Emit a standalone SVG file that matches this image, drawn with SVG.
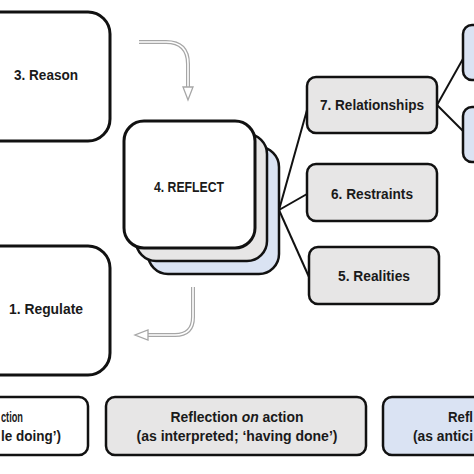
<svg xmlns="http://www.w3.org/2000/svg" width="474" height="474" viewBox="0 0 474 474">
<style>
.t{font-family:"Liberation Sans",Arial,sans-serif;font-weight:bold;font-size:14px;fill:#1a1a1a}
.big{fill:#fff;stroke:#111;stroke-width:3}
.gray{fill:#e7e6e6;stroke:#111;stroke-width:2.5}
.blue{fill:#dae3f3;stroke:#111;stroke-width:2.5}
.wht{fill:#fff;stroke:#111;stroke-width:2.5}
.ln{stroke:#111;stroke-width:2;fill:none}
.ao{stroke:#a6a6a6;stroke-width:4;fill:none}
.ai{stroke:#fff;stroke-width:1.6;fill:none}
.ah{fill:#fff;stroke:#a6a6a6;stroke-width:1.3}
</style>
<rect width="474" height="474" fill="#fff"/>
<g id="connectors">
<path class="ln" d="M279,210 L307,110"/>
<path class="ln" d="M279,210 L307,194"/>
<path class="ln" d="M279,210 L309,277"/>
<path class="ln" d="M437,105 L464,57"/>
<path class="ln" d="M437,105 L464,132"/>
<g id="arrow-top">
<path class="ao" d="M139,42 H166 Q188,42 188,64 V88"/>
<path class="ai" d="M139,42 H166 Q188,42 188,64 V88"/>
<polygon class="ah" points="183,87 193,87 188,100"/>
</g>
<g id="arrow-bottom">
<path class="ao" d="M193,287 V317 Q193,335 175,335 H147"/>
<path class="ai" d="M193,287 V317 Q193,335 175,335 H147"/>
<polygon class="ah" points="148,330 148,340 135,335"/>
</g>
</g>
<g id="reason">
<rect class="big" x="-20" y="12" width="130" height="129" rx="22"/>
<text class="t" x="46" y="80" text-anchor="middle" textLength="64" lengthAdjust="spacingAndGlyphs">3. Reason</text>
</g>
<g id="regulate">
<rect class="big" x="-20" y="246" width="130" height="129" rx="22"/>
<text class="t" x="46" y="314" text-anchor="middle" textLength="74" lengthAdjust="spacingAndGlyphs">1. Regulate</text>
</g>
<g id="reflect">
<rect class="blue" x="148" y="147" width="131" height="127" rx="20" stroke-width="3"/>
<rect class="gray" x="136" y="134" width="131" height="127" rx="20" stroke-width="3"/>
<rect class="big" x="124" y="121" width="131" height="127" rx="20"/>
<text class="t" x="189" y="192" text-anchor="middle" textLength="70" lengthAdjust="spacingAndGlyphs">4. REFLECT</text>
</g>
<g id="relationships">
<rect class="gray" x="307" y="77" width="130" height="56" rx="9"/>
<text class="t" x="372" y="110" text-anchor="middle" textLength="104" lengthAdjust="spacingAndGlyphs">7. Relationships</text>
</g>
<g id="restraints">
<rect class="gray" x="307" y="164" width="130" height="57" rx="9"/>
<text class="t" x="372" y="199" text-anchor="middle" textLength="82" lengthAdjust="spacingAndGlyphs">6. Restraints</text>
</g>
<g id="realities">
<rect class="gray" x="309" y="247" width="130" height="57" rx="9"/>
<text class="t" x="374" y="281" text-anchor="middle" textLength="72" lengthAdjust="spacingAndGlyphs">5. Realities</text>
</g>
<g id="blue-top">
<rect class="blue" x="463" y="25" width="40" height="55" rx="9"/>
</g>
<g id="blue-mid">
<rect class="blue" x="463" y="107" width="40" height="55" rx="9"/>
</g>
<g id="in-action">
<rect class="wht" x="-60" y="397" width="148" height="58" rx="9"/>
<text class="t" x="1" y="422" textLength="22" lengthAdjust="spacingAndGlyphs">ction</text>
<text class="t" x="1" y="441" textLength="60" lengthAdjust="spacingAndGlyphs">le doing’)</text>
</g>
<g id="on-action">
<rect class="gray" x="106" y="397" width="260" height="58" rx="9"/>
<text class="t" x="237" y="422" text-anchor="middle" textLength="133" lengthAdjust="spacingAndGlyphs">Reflection <tspan font-style="italic">on</tspan> action</text>
<text class="t" x="237" y="441" text-anchor="middle" textLength="201" lengthAdjust="spacingAndGlyphs">(as interpreted; ‘having done’)</text>
</g>
<g id="for-action">
<rect class="blue" x="383" y="397" width="130" height="58" rx="9"/>
<text class="t" x="448" y="422" textLength="25" lengthAdjust="spacingAndGlyphs">Refl</text>
<text class="t" x="413" y="441" textLength="60" lengthAdjust="spacingAndGlyphs">(as antici</text>
</g>
</svg>
